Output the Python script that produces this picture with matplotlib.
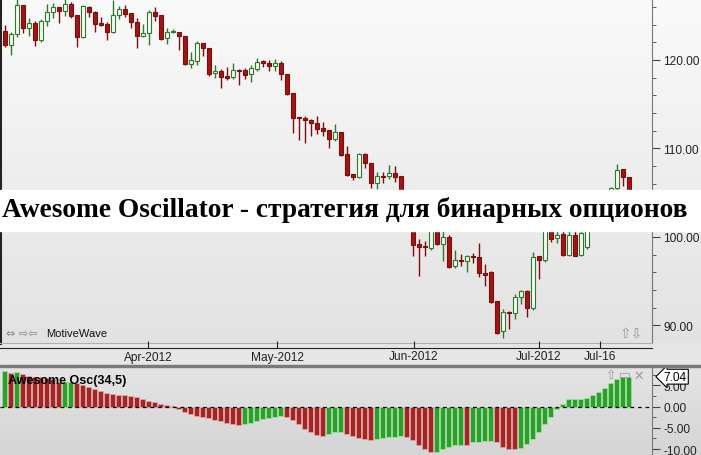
import numpy as np
import matplotlib
matplotlib.use("Agg")
import matplotlib.pyplot as plt
from matplotlib.patches import Rectangle
from matplotlib.colors import LinearSegmentedColormap
from matplotlib.ticker import MultipleLocator, FormatStrFormatter
from matplotlib.transforms import blended_transform_factory

# daily candles (bars under the banner are guessed)
opens = [123.3, 121.7, 122.9, 126.2, 123.6, 124.2, 122.3, 124.4, 125.4, 126.0,
         125.5, 126.3, 125.1, 122.6, 126.0, 125.4, 124.2, 124.1, 123.2, 125.1,
         125.8, 125.3, 124.3, 122.7, 123.0, 125.4, 125.1, 122.5, 123.2, 123.2,
         122.7, 119.6, 119.9, 121.9, 121.4, 118.5, 118.7, 118.2, 118.1, 118.9,
         118.9, 118.4, 119.0, 119.85, 119.7, 119.3, 119.7, 118.4, 116.3, 113.6,
         113.4, 113.25, 112.9, 112.35, 112.1, 111.1, 111.9, 109.4, 107.1, 106.8,
         109.4, 108.4, 106.1, 106.85, 106.85, 107.25, 106.9, 104.0, 101.5, 99.2,
         98.95, 98.8, 101.5, 99.15, 100.0, 96.7, 97.4, 97.25, 97.9, 97.7,
         95.9, 96.0, 92.8, 89.35, 91.45, 91.4, 93.2, 93.95, 92.0, 97.8,
         97.4, 100.9, 99.9, 100.3, 98.0, 100.2, 98.0, 98.9, 102.5, 103.5,
         103.0, 104.8, 105.5, 107.7, 106.75]
highs = [124.0, 123.2, 127.2, 126.2, 124.7, 124.4, 124.6, 126.3, 126.4, 126.0,
         126.9, 126.6, 125.1, 126.2, 126.1, 125.5, 124.8, 124.3, 126.8, 126.1,
         126.2, 125.3, 124.7, 124.1, 125.6, 126.0, 125.1, 123.6, 123.5, 123.2,
         122.7, 120.9, 122.1, 121.9, 121.4, 119.4, 119.0, 119.2, 119.7, 119.0,
         119.1, 119.4, 120.2, 120.0, 120.0, 120.1, 119.9, 118.4, 116.3, 113.6,
         113.7, 113.3, 113.7, 113.0, 112.1, 112.8, 111.9, 110.3, 107.1, 109.5,
         109.5, 108.4, 107.3, 107.3, 108.1, 108.0, 106.9, 104.5, 102.0, 99.8,
         99.6, 102.0, 101.8, 100.7, 100.2, 98.5, 98.1, 98.0, 98.2, 99.3,
         96.9, 96.2, 92.8, 91.9, 91.6, 93.6, 94.0, 94.0, 98.3, 97.9,
         102.3, 101.3, 100.7, 101.0, 101.2, 101.0, 101.2, 103.5, 104.0, 104.2,
         105.2, 105.6, 108.25, 107.7, 106.75]
lows = [121.5, 120.6, 122.6, 123.1, 122.7, 121.6, 122.0, 123.8, 124.7, 124.2,
        125.0, 124.7, 121.5, 122.5, 124.8, 123.2, 123.8, 122.3, 123.1, 124.6,
        124.9, 123.6, 121.4, 122.6, 121.7, 124.4, 122.3, 121.8, 123.0, 121.1,
        119.45, 119.1, 119.4, 120.4, 118.2, 118.0, 116.8, 117.7, 117.8, 117.2,
        117.9, 117.5, 118.8, 119.2, 118.8, 118.8, 117.7, 116.0, 111.8, 111.0,
        110.6, 111.4, 111.6, 111.45, 110.1, 110.9, 109.1, 106.9, 106.4, 106.7,
        107.8, 105.5, 105.4, 106.1, 106.55, 106.2, 103.5, 102.0, 97.8, 95.6,
        97.8, 98.5, 99.1, 97.3, 96.5, 96.55, 96.75, 96.0, 97.05, 95.45,
        94.5, 92.5, 89.0, 88.6, 89.6, 90.7, 92.4, 91.0, 91.7, 95.25,
        97.2, 99.4, 99.3, 97.8, 97.9, 97.8, 97.9, 98.6, 102.0, 102.5,
        102.8, 104.0, 105.2, 105.8, 104.0]
closes = [121.7, 122.9, 126.2, 123.6, 124.2, 122.3, 124.4, 125.4, 126.0, 125.5,
          126.3, 125.0, 122.6, 126.1, 125.4, 124.1, 124.0, 123.2, 125.1, 125.8,
          125.2, 124.3, 122.7, 123.1, 125.4, 125.0, 122.4, 123.2, 123.3, 122.7,
          119.5, 120.0, 121.9, 121.3, 118.4, 118.7, 118.1, 118.0, 118.9, 118.8,
          118.3, 119.1, 119.8, 119.7, 119.3, 119.7, 118.4, 116.2, 113.5, 113.4,
          113.2, 112.9, 112.2, 112.0, 111.1, 111.9, 109.3, 107.0, 106.8, 109.4,
          108.4, 106.1, 106.9, 106.75, 107.25, 106.75, 104.0, 102.5, 99.1, 98.9,
          98.85, 101.5, 99.2, 100.0, 96.6, 97.4, 97.25, 97.9, 97.7, 95.9,
          95.75, 92.7, 89.2, 91.5, 91.4, 93.25, 93.9, 92.0, 97.7, 97.4,
          101.8, 99.8, 100.2, 98.0, 100.2, 97.9, 100.5, 102.5, 103.5, 103.0,
          104.8, 105.5, 107.6, 106.75, 104.5]

# Awesome Oscillator (34,5)
ao = [8.3, 8.0, 8.1, 7.6, 7.2, 7.0, 6.9, 6.8, 6.4, 5.7,
      5.8, 5.9, 5.6, 5.1, 4.6, 4.1, 3.6, 3.2, 2.9, 2.8,
      2.7, 2.5, 2.3, 1.9, 1.4, 1.0, 0.7, 0.4, 0.15, -0.5,
      -1.3, -1.8, -2.2, -2.4, -2.8, -3.2, -3.5, -3.9, -4.1, -4.25,
      -4.1, -3.75, -3.4, -3.0, -2.6, -2.35, -2.2, -2.4, -3.1, -4.1,
      -5.2, -6.1, -6.7, -6.9, -6.4, -6.1, -5.9, -6.4, -7.0, -7.4,
      -7.65, -7.8, -7.65, -7.35, -7.1, -7.05, -6.85, -7.2, -7.8, -9.05,
      -10.0, -10.8, -10.6, -10.0, -9.5, -9.05, -9.0, -9.1, -8.45, -8.3,
      -8.1, -8.05, -8.45, -9.4, -10.0, -10.05, -9.7, -8.7, -7.6, -5.9,
      -4.15, -2.4, -0.6, 0.7, 1.7, 1.75, 1.8, 2.0, 2.7, 3.4,
      4.3, 5.45, 6.4, 6.9, 7.04]

date_ticks = [23.9, 45.4, 68.2, 89.05, 99.2]
date_labels = ["Apr-2012", "May-2012", "Jun-2012", "Jul-2012", "Jul-16"]
title = "Awesome Oscillator - стратегия для бинарных опционов"
osc_name = "Awesome Osc(34,5)"
last_label = "7.04"

plt.rcParams["font.family"] = ["Liberation Sans", "DejaVu Sans"]

W, H = 701, 456
fig = plt.figure(figsize=(W / 100, H / 100), dpi=100)
fig.patch.set_facecolor("#e6e6e6")


def fx(px):
    return px / W


def fy(py):
    return 1 - py / H


def gradient_axes(rect, top, bottom):
    b = fig.add_axes(rect)
    cmap = LinearSegmentedColormap.from_list("g", [top, bottom])
    b.imshow(np.linspace(0, 1, 256).reshape(-1, 1), cmap=cmap,
             aspect="auto", extent=[0, 1, 0, 1])
    b.set_axis_off()
    return b


gradient_axes([0, fy(344), 1, 344 / H], "#fafafa", "#e2e2e2")
gradient_axes([0, 0, 1, 88.5 / H], "#e4e4e4", "#d5d5d5")

xlim = (-4.7 / 6, (652 - 4.7) / 6)
idx = np.arange(len(opens))
o = np.array(opens)
c = np.array(closes)
up = c >= o

# price panel
ax = fig.add_axes([0, fy(344), fx(652), 344 / H])
ax.patch.set_alpha(0)
ax.set_xlim(*xlim)
ax.set_ylim(88.02, 126.89)
wick = np.where(up, "#2b7a2b", "#7d0d0d")
ax.vlines(idx, lows, highs, colors=wick, lw=1.0, zorder=2)
ax.bar(idx, np.maximum(np.abs(c - o), 0.12), bottom=np.minimum(o, c), width=0.62,
       color=np.where(up, "#f6faf6", "#a01515"),
       edgecolor=np.where(up, "#2b7a2b", "#7d0d0d"), linewidth=0.8, zorder=3)
ax.set_xticks([])
ax.yaxis.tick_right()
ax.yaxis.set_major_locator(MultipleLocator(10))
ax.yaxis.set_minor_locator(MultipleLocator(2))
ax.yaxis.set_major_formatter(FormatStrFormatter("%.2f"))
ax.tick_params(axis="y", which="major", length=6, color="#444", labelsize=8.6,
               labelcolor="#222", pad=2)
ax.tick_params(axis="y", which="minor", length=3, color="#444")
for s in ("top",):
    ax.spines[s].set_visible(False)
ax.spines["left"].set_linewidth(2.2)
ax.spines["left"].set_color("#222")
ax.spines["right"].set_color("#777")
ax.spines["bottom"].set_color("#b0b0b0")

fig.text(fx(6), fy(334), "⇔ ⇨⇦", fontsize=8, color="#888", va="center",
         family="DejaVu Sans")
fig.text(fx(46), fy(334), "MotiveWave", fontsize=8, color="#111", va="center")
fig.text(fx(620), fy(334), "⇧⇩", fontsize=10, color="#999", va="center",
         family="DejaVu Sans")

# date axis strip
axd = fig.add_axes([0, fy(366), fx(652), 17 / H])
axd.set_facecolor("#e6e6e6")
axd.set_xlim(*xlim)
axd.set_xticks(date_ticks)
axd.set_yticks([])
axd.tick_params(axis="x", top=True, bottom=False, direction="out", length=5,
                labeltop=False, labelbottom=False, color="#222")
for s in ("left", "right", "bottom"):
    axd.spines[s].set_visible(False)
axd.spines["top"].set_color("#222")
for t, lab in zip(date_ticks, date_labels):
    axd.text(t, 0.5, lab, transform=axd.get_xaxis_transform(), ha="center",
             va="center", fontsize=8.6, color="#222")

fig.add_artist(Rectangle((0, fy(368)), 1, 2.5 / H, transform=fig.transFigure,
                         color="#7a7a7a", zorder=5))

# oscillator panel
axo = fig.add_axes([0, 0, fx(652), 88 / H])
axo.patch.set_alpha(0)
axo.set_xlim(*xlim)
axo.set_ylim(-11.4, 9.32)
a = np.array(ao)
rising = np.concatenate([[True], a[1:] >= a[:-1]])
axo.bar(idx, a, width=0.78, color=np.where(rising, "#2f9e2f", "#a32626"),
        edgecolor=np.where(rising, "#9be89b", "#e8a8a8"), linewidth=0.5, zorder=2)
axo.axhline(0, color="black", lw=0.9, ls=(0, (3, 3)), zorder=3)
axo.set_xticks([])
axo.yaxis.tick_right()
axo.yaxis.set_major_locator(MultipleLocator(5))
axo.yaxis.set_minor_locator(MultipleLocator(2.5))
axo.yaxis.set_major_formatter(FormatStrFormatter("%.2f"))
axo.tick_params(axis="y", which="major", length=6, color="#444", labelsize=8.6,
                labelcolor="#222", pad=2)
axo.tick_params(axis="y", which="minor", length=3, color="#444")
for s in ("top", "left", "bottom"):
    axo.spines[s].set_visible(False)
axo.spines["right"].set_color("#777")

tr = blended_transform_factory(axo.transAxes, axo.transData)
axo.text(1.018, ao[-1], last_label, transform=tr, ha="left", va="center",
         fontsize=8.6, color="black", zorder=6,
         bbox=dict(boxstyle="larrow,pad=0.12", fc="white", ec="black", lw=0.8))
fig.text(fx(8), fy(381), osc_name, fontsize=9, fontweight="bold", color="black",
         va="center")
fig.text(fx(606), fy(376), "⇧", fontsize=9, color="#999", va="center",
         family="DejaVu Sans")
fig.text(fx(619), fy(376), "▭", fontsize=9, color="#999", va="center",
         family="DejaVu Sans")
fig.text(fx(633), fy(376), "✕", fontsize=9, color="#999", va="center",
         family="DejaVu Sans")

# banner over the chart
fig.add_artist(Rectangle((0, fy(232)), 1, 41 / H, transform=fig.transFigure,
                         color="white", zorder=10))
t = fig.text(fx(2), fy(217), title, fontsize=19, fontweight="bold",
             family="Liberation Serif", color="black", va="baseline", zorder=11)
fig.canvas.draw()
w = t.get_window_extent().width
t.set_fontsize(19 * 684 / w)

fig.savefig("out.png", dpi=100, facecolor=fig.get_facecolor())
